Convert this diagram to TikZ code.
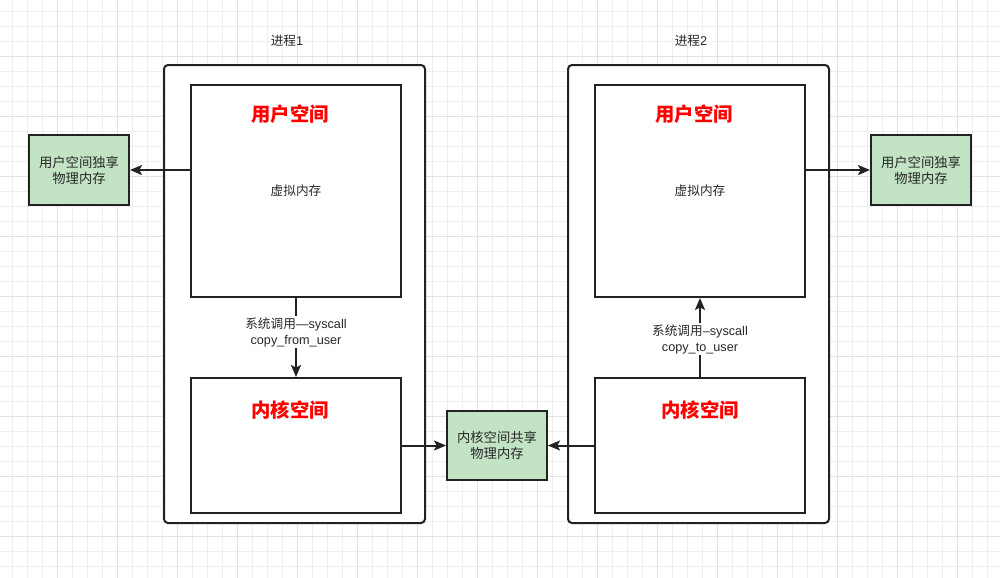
\documentclass[tikz,border=0pt]{standalone}
\usepackage{fontspec}
\setmainfont{Liberation Sans}
\newfontfamily\cjk{Noto Sans CJK SC}
\usepackage{tikz}
\usetikzlibrary{arrows.meta, positioning, calc}
\definecolor{mydark}{RGB}{34,34,34}
\definecolor{mytext}{RGB}{40,40,40}
\definecolor{myred}{RGB}{255,0,0}
\definecolor{mygreen}{RGB}{194,227,196}
\definecolor{gridminor}{RGB}{238,238,238}
\definecolor{gridmajor}{RGB}{226,226,226}
\tikzset{
  procbox/.style={rectangle, draw=mydark, fill=white, line width=1.5pt,
    rounded corners=3pt, minimum width=195.75pt, minimum height=343.5pt},
  spacebox/.style={rectangle, draw=mydark, fill=white, line width=1.5pt,
    minimum width=157.5pt},
  membox/.style={rectangle, draw=mydark, fill=mygreen, line width=1.5pt,
    minimum width=75pt, minimum height=52.5pt, align=center,
    font=\fontsize{10}{12}\selectfont\cjk, text=mytext},
  title/.style={font=\fontsize{14.5}{16}\selectfont\cjk\bfseries, text=myred},
  label/.style={font=\fontsize{9.5}{12}\selectfont, text=mytext, align=center},
  arrow/.style={-{Stealth[length=9pt, width=7.5pt, inset=2pt]}, line width=1.5pt, color=mydark},
  gridline/.style={line width=0.75pt, color=gridminor},
  gridbold/.style={line width=0.75pt, color=gridmajor}
}
\begin{document}
\begin{tikzpicture}[x=0.75pt, y=-0.75pt]
  \useasboundingbox (0,0) rectangle (1000,578);

  % Background grid
  \foreach \i in {0,...,66} {
    \draw[gridline] ({12.5+15*\i},0) -- ({12.5+15*\i},578);
  }
  \foreach \i in {0,...,37} {
    \draw[gridline] (0,{11.7+15*\i}) -- (1000,{11.7+15*\i});
  }
  \foreach \i in {0,...,16} {
    \draw[gridbold] ({57.5+60*\i},0) -- ({57.5+60*\i},578);
  }
  \foreach \i in {0,...,8} {
    \draw[gridbold] (0,{56.7+60*\i}) -- (1000,{56.7+60*\i});
  }

  % Processes
  \node[procbox] (proc1) at (294.5,294) {};
  \node[procbox] (proc2) at (698.5,294) {};
  \node[label] (name1) at (287,41) {{\cjk 进程}1};
  \node[label] (name2) at (691,41) {{\cjk 进程}2};

  % User and kernel spaces
  \node[spacebox, minimum height=159pt] (user1) at (296,191) {};
  \node[spacebox, minimum height=101.25pt] (kern1) at (296,445.5) {};
  \node[spacebox, minimum height=159pt] (user2) at (700,191) {};
  \node[spacebox, minimum height=101.25pt] (kern2) at (700,445.5) {};

  \node[title] (utitle1) at (290,114) {用户空间};
  \node[label] (virt1) at (296,191) {\cjk 虚拟内存};
  \node[title] (ktitle1) at (290,410) {内核空间};
  \node[title] (utitle2) at (694,114) {用户空间};
  \node[label] (virt2) at (700,191) {\cjk 虚拟内存};
  \node[title] (ktitle2) at (700,410) {内核空间};

  % Physical memory
  \node[membox] (umem1) at (79,170) {用户空间独享\\物理内存};
  \node[membox] (umem2) at (921,170) {用户空间独享\\物理内存};
  \node[membox, minimum height=51.75pt] (kmem) at (497,445.5) {内核空间共享\\物理内存};

  % Connections
  \draw[arrow] (user1.west |- umem1) -- (umem1.east);
  \draw[arrow] (user2.east |- umem2) -- (umem2.west);
  \draw[arrow] (kern1.east) -- (kmem.west);
  \draw[arrow] (kern2.west) -- (kmem.east);

  % System calls
  \draw[arrow] (user1.south) -- (kern1.north);
  \node[label, fill=white, inner sep=1pt] (call1) at (296,332) {{\cjk 系统调用}—syscall\\copy\_from\_user};
  \draw[arrow] (kern2.north) -- (user2.south);
  \node[label, fill=white, inner sep=1pt] (call2) at (700,339) {{\cjk 系统调用}–syscall\\copy\_to\_user};
\end{tikzpicture}
\end{document}
